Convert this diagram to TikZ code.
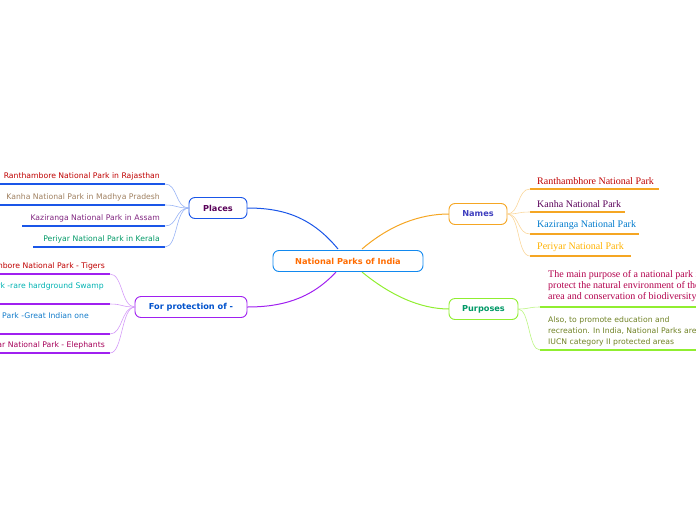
\documentclass[tikz,border=0pt]{standalone}
\usepackage{fontspec}
\setmainfont{DejaVu Sans}
\newfontfamily\serifx{Liberation Serif}
\begin{document}
\begin{tikzpicture}[x=1pt,y=-1pt,
 topic/.style={draw,rounded corners=6pt,line width=0.9pt,fill=white,minimum height=21pt,font=\fontsize{8.2}{9}\selectfont\bfseries,inner sep=0pt},
 itm/.style={font=\fontsize{7.7}{9}\selectfont,inner sep=0pt},
 itr/.style={font=\serifx\fontsize{10}{11}\selectfont,inner sep=0pt},
 ul/.style={line width=1.3pt},
 cn/.style={line width=0.6pt}]
\useasboundingbox (0,0) rectangle (696,520);
\definecolor{cblue}{HTML}{1A56E8}\definecolor{cpur}{HTML}{A020F0}
\definecolor{cor}{HTML}{F5A623}\definecolor{cgr}{HTML}{90EE30}
% connectors from center
\draw[cblue,line width=1pt] (338,249) .. controls (310,215) and (280,208) .. (247,208);
\draw[cpur,line width=1pt] (336,272) .. controls (310,300) and (280,307) .. (247,307);
\draw[cor,line width=1pt] (362,249) .. controls (390,225) and (420,214) .. (449,214);
\draw[cgr,line width=1pt] (362,272) .. controls (390,295) and (420,309) .. (449,309);
\node[topic,draw=cblue!70!cyan,text=orange!85!red,minimum width=150pt] (c) at (348,261) {National Parks of India};
\node[topic,draw=cblue,text=violet!70!black,minimum width=58pt] (pl) at (218,208) {Places};
\node[topic,draw=cpur,text=blue!60!cyan!80!black,minimum width=112pt] (pr) at (191,307) {For protection of -};
\node[topic,draw=cor,text=blue!50!gray,minimum width=58pt] (nm) at (478,214) {Names};
\node[topic,draw=cgr,text=teal!80!green,minimum width=69pt] (pu) at (483.5,309) {Purposes};
% places items
\foreach \t/\y/\xs/\col in {Ranthambore National Park in Rajasthan/184/0/red!75!black,
 Kanha National Park in Madhya Pradesh/205/0/brown!50!gray,
 Kaziranga National Park in Assam/226/22/violet!70!gray,
 Periyar National Park in Kerala/247/33/teal!80!green}{
 \node[itm,text=\col,anchor=south east] at (160,\y-4) {\t};
 \draw[ul,cblue] (\xs,\y) -- (165,\y);
 \draw[cn,cblue!45] (165,\y) .. controls (178,\y) and (175,208) .. (189,208);}
% protection items
\foreach \t/\y/\ty/\xr/\col in {Ranthambore National Park - Tigers/274/270/105/red!75!black,
 Kanha National Park -rare hardground Swamp/304/290/104/teal!60!cyan,
 Kaziranga National Park -Great Indian one/334/320/89/cyan!60!blue,
 Periyar National Park - Elephants/353/349/105/violet!70!red}{
 \node[itm,text=\col,anchor=south east] at (\xr,\ty) {\t};
 \draw[ul,cpur] (0,\y) -- (110,\y);
 \draw[cn,cpur!45] (110,\y) .. controls (123,\y) and (121,307) .. (135,307);}
% names items
\foreach \t/\y/\xe/\col in {Ranthambhore National Park/189/659/red!75!black,
 Kanha National Park/212/625/violet!70!black,
 Kaziranga National Park/234/639/blue!40!cyan!80!black,
 Periyar National Park/256/631/orange!60!yellow}{
 \node[itr,text=\col,anchor=south west] at (537,\y-4) {\t};
 \draw[ul,cor] (530,\y) -- (\xe,\y);
 \draw[cn,cor!45] (507,214) .. controls (520,214) and (517,\y) .. (530,\y);}
% purposes items
\node[itr,text=violet!60!red,anchor=south west,align=left] at (548,302) {The main purpose of a national park is to\\protect the natural environment of the\\area and conservation of biodiversity};
\draw[ul,cgr] (540,307) -- (696,307);
\draw[cn,cgr!60] (518,309) .. controls (530,309) and (528,307) .. (540,307);
\node[itm,text=olive!70!green!80!black,anchor=south west,align=left,font=\fontsize{7.7}{11}\selectfont] at (548,346) {Also, to promote education and\\recreation. In India, National Parks are\\IUCN category II protected areas};
\draw[ul,cgr] (540,350) -- (696,350);
\draw[cn,cgr!60] (518,309) .. controls (530,309) and (528,350) .. (540,350);
\end{tikzpicture}
\end{document}
